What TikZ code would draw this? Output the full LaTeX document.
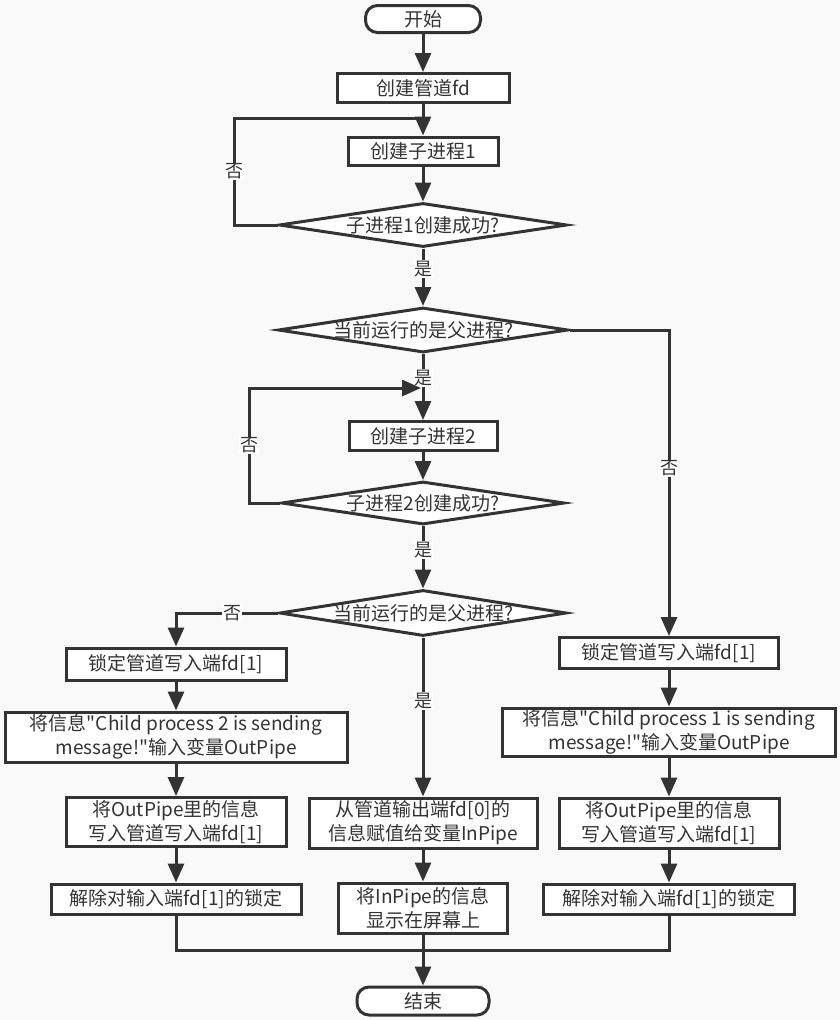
\documentclass[tikz,border=0pt]{standalone}
\usepackage{fontspec}
\setmainfont{Noto Sans CJK SC}[Ligatures=TeXOff]
\usetikzlibrary{arrows.meta,shapes.geometric}
\definecolor{inkgray}{RGB}{51,51,51}
\definecolor{paper}{RGB}{249,249,249}

\begin{document}
\begin{tikzpicture}[x=1pt, y=-1pt,
		every node/.style={font=\fontsize{19}{24}\selectfont, text=inkgray},
		box/.style={draw=inkgray, line width=3pt, fill=white, align=center, inner sep=0pt},
		term/.style={box, rounded corners=12pt},
		cond/.style={diamond, draw=inkgray, line width=3pt, fill=white, aspect=6.5, inner xsep=0pt, inner ysep=-3pt},
		link/.style={draw=inkgray, line width=3pt},
		flow/.style={link, -{Triangle[length=19pt, width=16pt]}},
		yesno/.style={fill=white, inner sep=1pt, font=\fontsize{18}{20}\selectfont}]
		%%%%% START %%%%%
		
		\fill[paper] (0, 0) rectangle (840, 1020);
		
		% main column
		\node[term, minimum width=115pt, minimum height=27pt] (start) at (423, 19) {开始};
		\node[box, minimum width=172pt, minimum height=29pt] (pipe) at (423, 88) {创建管道fd};
		\node[box, minimum width=150pt, minimum height=28pt] (fork1) at (423, 151) {创建子进程1};
		\node[cond, minimum width=288pt, minimum height=44pt] (ok1) at (423, 225) {子进程1创建成功?};
		\node[cond, minimum width=290pt, minimum height=45pt] (parent1) at (423, 330) {当前运行的是父进程?};
		\node[box, minimum width=148pt, minimum height=29pt] (fork2) at (423, 436) {创建子进程2};
		\node[cond, minimum width=283pt, minimum height=43pt] (ok2) at (423, 503) {子进程2创建成功?};
		\node[cond, minimum width=287pt, minimum height=46pt] (parent2) at (423, 613) {当前运行的是父进程?};
		\node[box, minimum width=228pt, minimum height=50pt] (readM) at (423, 823) {从管道输出端fd[0]的\\信息赋值给变量InPipe};
		\node[box, minimum width=169pt, minimum height=50pt] (showM) at (423, 908) {将InPipe的信息\\显示在屏幕上};
		\node[term, minimum width=132pt, minimum height=28pt] (end) at (423, 1001) {结束};
		
		% left column
		\node[box, minimum width=220pt, minimum height=32pt] (lockL) at (176, 664) {锁定管道写入端fd[1]};
		\node[box, minimum width=342pt, minimum height=50pt] (msgL) at (176, 737) {将信息"Child process 2 is sending\\message!"输入变量OutPipe};
		\node[box, minimum width=220pt, minimum height=49pt] (writeL) at (176, 822) {将OutPipe里的信息\\写入管道写入端fd[1]};
		\node[box, minimum width=250pt, minimum height=30pt] (unlockL) at (176, 899) {解除对输入端fd[1]的锁定};
		
		% right column
		\node[box, minimum width=219pt, minimum height=31pt] (lockR) at (669, 653) {锁定管道写入端fd[1]};
		\node[box, minimum width=333pt, minimum height=48pt] (msgR) at (669, 732) {将信息"Child process 1 is sending\\message!"输入变量OutPipe};
		\node[box, minimum width=220pt, minimum height=50pt] (writeR) at (669, 823) {将OutPipe里的信息\\写入管道写入端fd[1]};
		\node[box, minimum width=251pt, minimum height=30pt] (unlockR) at (669, 899) {解除对输入端fd[1]的锁定};
		
		\coordinate (back1) at (234, 118);
		\coordinate (join1) at (423, 118);
		\coordinate (back2) at (249, 388);
		\coordinate (join2) at (421, 388);
		\coordinate (merge) at (423, 950);
		
		\draw[flow] (start) -- (pipe);
		\draw[flow] (pipe) -- (fork1);
		\draw[flow] (fork1) -- (ok1);
		\draw[link] (ok1.west) -| node[yesno, pos=0.75] (no1) {否} (back1) -- (join1);
		\draw[flow] (ok1) -- node[yesno, pos=0.35] (yes1) {是} (parent1);
		\draw[flow] (parent1.east) -| node[yesno, pos=0.726] (no2) {否} (lockR.north);
		\draw[flow] (parent1) -- node[yesno, pos=0.36] (yes2) {是} (fork2);
		\draw[flow] (fork2) -- (ok2);
		\draw[flow] (ok2.west) -| node[yesno, pos=0.75] (no3) {否} (back2) -- (join2);
		\draw[flow] (ok2) -- node[yesno, pos=0.38] (yes3) {是} (parent2);
		\draw[flow] (parent2.west) -| node[yesno, pos=0.225] (no4) {否} (lockL.north);
		\draw[flow] (parent2) -- node[yesno, pos=0.4] (yes4) {是} (readM);
		
		\draw[flow] (lockL) -- (msgL);
		\draw[flow] (msgL) -- (writeL);
		\draw[flow] (writeL) -- (unlockL);
		\draw[flow] (readM) -- (showM);
		\draw[flow] (lockR) -- (msgR);
		\draw[flow] (msgR) -- (writeR);
		\draw[flow] (writeR) -- (unlockR);
		
		\draw[link] (unlockL.south) |- (merge);
		\draw[link] (unlockR.south) |- (merge);
		\draw[flow] (showM) -- (end);
		
		%%%%% END %%%%%
	\end{tikzpicture}
\end{document}
